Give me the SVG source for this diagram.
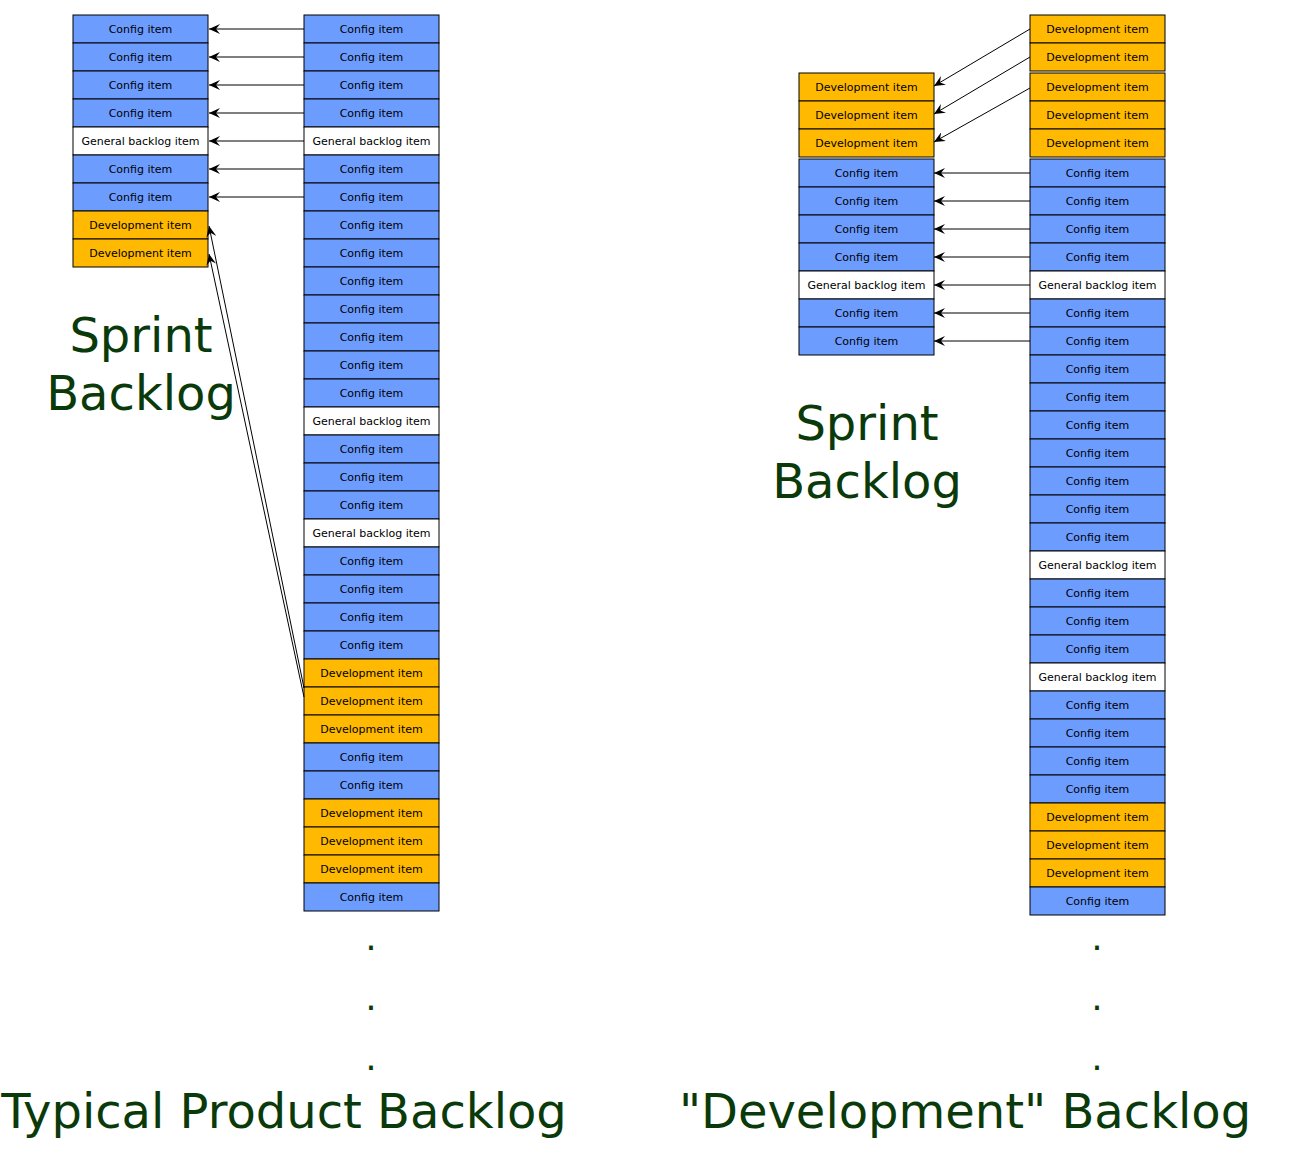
<svg xmlns="http://www.w3.org/2000/svg" width="1300" height="1155" viewBox="0 0 1300 1155">
<style>
rect{stroke:#000;stroke-width:1}
.c{fill:#6d9cff}.d{fill:#ffb900}.g{fill:#fff}
.t{font-family:"DejaVu Sans",sans-serif;font-size:11px;text-anchor:middle;fill:#000}
.big{font-family:"DejaVu Sans","Liberation Sans",sans-serif;font-size:48px;fill:#0a3a0a}
.m{font-family:"DejaVu Sans",sans-serif;font-size:36px;fill:#0a3a0a;text-anchor:middle}
line{stroke:#000;stroke-width:1}
</style>
<defs>
<marker id="a" markerWidth="12" markerHeight="10" refX="11" refY="5" orient="auto" markerUnits="userSpaceOnUse"><path d="M0,0 L11,5 L0,10 L4,5 Z" fill="#000"/></marker>
<g id="C"><rect class="c" width="135" height="28"/><text class="t" x="67.5" y="18">Config item</text></g>
<g id="D"><rect class="d" width="135" height="28"/><text class="t" x="67.5" y="18">Development item</text></g>
<g id="G"><rect class="g" width="135" height="28"/><text class="t" x="67.5" y="18">General backlog item</text></g>
</defs>
<g id="sprint-left">
<use href="#C" x="73" y="15"/><use href="#C" x="73" y="43"/><use href="#C" x="73" y="71"/><use href="#C" x="73" y="99"/>
<use href="#G" x="73" y="127"/><use href="#C" x="73" y="155"/><use href="#C" x="73" y="183"/>
<use href="#D" x="73" y="211"/><use href="#D" x="73" y="239"/>
</g>
<g id="product-left">
<use href="#C" x="304" y="15"/><use href="#C" x="304" y="43"/><use href="#C" x="304" y="71"/><use href="#C" x="304" y="99"/>
<use href="#G" x="304" y="127"/>
<use href="#C" x="304" y="155"/><use href="#C" x="304" y="183"/><use href="#C" x="304" y="211"/><use href="#C" x="304" y="239"/><use href="#C" x="304" y="267"/><use href="#C" x="304" y="295"/><use href="#C" x="304" y="323"/><use href="#C" x="304" y="351"/><use href="#C" x="304" y="379"/>
<use href="#G" x="304" y="407"/>
<use href="#C" x="304" y="435"/><use href="#C" x="304" y="463"/><use href="#C" x="304" y="491"/>
<use href="#G" x="304" y="519"/>
<use href="#C" x="304" y="547"/><use href="#C" x="304" y="575"/><use href="#C" x="304" y="603"/><use href="#C" x="304" y="631"/>
<use href="#D" x="304" y="659"/><use href="#D" x="304" y="687"/><use href="#D" x="304" y="715"/>
<use href="#C" x="304" y="743"/><use href="#C" x="304" y="771"/>
<use href="#D" x="304" y="799"/><use href="#D" x="304" y="827"/><use href="#D" x="304" y="855"/>
<use href="#C" x="304" y="883"/>
</g>
<g id="sprint-right">
<use href="#D" x="799" y="73"/><use href="#D" x="799" y="101"/><use href="#D" x="799" y="129"/>
<use href="#C" x="799" y="159"/><use href="#C" x="799" y="187"/><use href="#C" x="799" y="215"/><use href="#C" x="799" y="243"/>
<use href="#G" x="799" y="271"/><use href="#C" x="799" y="299"/><use href="#C" x="799" y="327"/>
</g>
<g id="product-right">
<use href="#D" x="1030" y="15"/><use href="#D" x="1030" y="43"/>
<use href="#D" x="1030" y="73"/><use href="#D" x="1030" y="101"/><use href="#D" x="1030" y="129"/>
<use href="#C" x="1030" y="159"/><use href="#C" x="1030" y="187"/><use href="#C" x="1030" y="215"/><use href="#C" x="1030" y="243"/>
<use href="#G" x="1030" y="271"/>
<use href="#C" x="1030" y="299"/><use href="#C" x="1030" y="327"/><use href="#C" x="1030" y="355"/><use href="#C" x="1030" y="383"/><use href="#C" x="1030" y="411"/><use href="#C" x="1030" y="439"/><use href="#C" x="1030" y="467"/><use href="#C" x="1030" y="495"/><use href="#C" x="1030" y="523"/>
<use href="#G" x="1030" y="551"/>
<use href="#C" x="1030" y="579"/><use href="#C" x="1030" y="607"/><use href="#C" x="1030" y="635"/>
<use href="#G" x="1030" y="663"/>
<use href="#C" x="1030" y="691"/><use href="#C" x="1030" y="719"/><use href="#C" x="1030" y="747"/><use href="#C" x="1030" y="775"/>
<use href="#D" x="1030" y="803"/><use href="#D" x="1030" y="831"/><use href="#D" x="1030" y="859"/>
<use href="#C" x="1030" y="887"/>
</g>
<g id="connectors" marker-end="url(#a)">
<line x1="304" y1="29" x2="209" y2="29"/><line x1="304" y1="57" x2="209" y2="57"/><line x1="304" y1="85" x2="209" y2="85"/><line x1="304" y1="113" x2="209" y2="113"/><line x1="304" y1="141" x2="209" y2="141"/><line x1="304" y1="169" x2="209" y2="169"/><line x1="304" y1="197" x2="209" y2="197"/>
<line x1="304" y1="688" x2="209" y2="226"/><line x1="304" y1="697" x2="209" y2="254"/>
<line x1="1030" y1="29" x2="934" y2="86"/><line x1="1030" y1="57" x2="934" y2="114"/><line x1="1030" y1="88" x2="934" y2="142"/>
<line x1="1030" y1="173" x2="934" y2="173"/><line x1="1030" y1="201" x2="934" y2="201"/><line x1="1030" y1="229" x2="934" y2="229"/><line x1="1030" y1="257" x2="934" y2="257"/><line x1="1030" y1="285" x2="934" y2="285"/><line x1="1030" y1="313" x2="934" y2="313"/><line x1="1030" y1="341" x2="934" y2="341"/>
</g>
<text class="big" x="141" y="352" text-anchor="middle">Sprint</text>
<text class="big" x="141" y="410" text-anchor="middle">Backlog</text>
<text class="big" x="867" y="440" text-anchor="middle">Sprint</text>
<text class="big" x="867" y="498" text-anchor="middle">Backlog</text>
<text class="m" x="371" y="950">.</text><text class="m" x="371" y="1010">.</text><text class="m" x="371" y="1070">.</text>
<text class="m" x="1097" y="950">.</text><text class="m" x="1097" y="1010">.</text><text class="m" x="1097" y="1070">.</text>
<text class="big" x="284" y="1128" text-anchor="middle">Typical Product Backlog</text>
<text class="big" x="965" y="1128" text-anchor="middle">"Development" Backlog</text>
</svg>
